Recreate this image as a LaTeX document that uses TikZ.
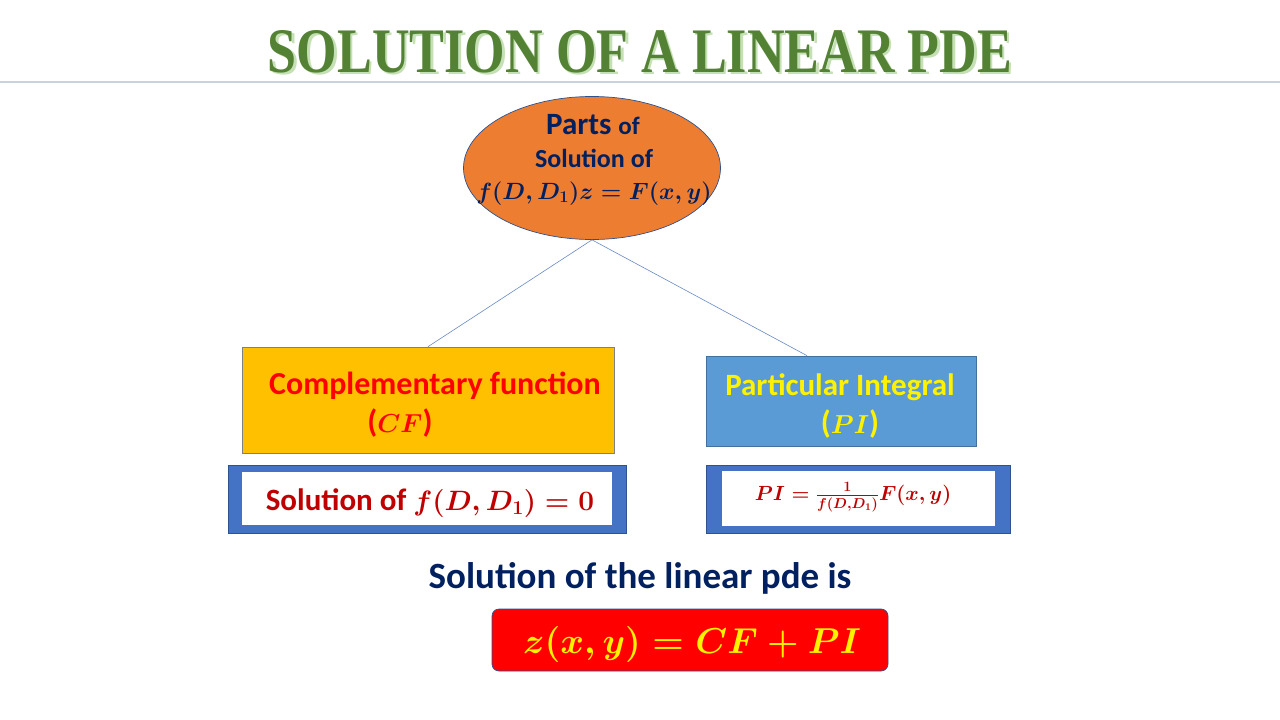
\RequirePackage{fix-cm}
\documentclass[tikz,border=0pt]{standalone}
\usepackage{amsmath}
\usepackage{fontspec}
\setmainfont{Carlito}
\newfontfamily\titlefont{Liberation Serif}
\usetikzlibrary{shapes.geometric,calc}
\definecolor{navy}{HTML}{002060}
\definecolor{tgreen}{HTML}{548235}
\definecolor{tshadow}{HTML}{C5E0B4}
\definecolor{orangeF}{HTML}{ED7D31}
\definecolor{gold}{HTML}{FFC000}
\definecolor{skyF}{HTML}{5B9BD5}
\definecolor{skyD}{HTML}{41719C}
\definecolor{frameB}{HTML}{4472C4}
\definecolor{darkred}{HTML}{C00000}
\definecolor{edgeB}{HTML}{2F528F}
\definecolor{ruleC}{HTML}{C9D3DC}
\definecolor{linkC}{HTML}{6A8AC4}
\newcommand{\fs}[1]{\fontsize{#1}{#1}\selectfont}
\begin{document}
\begin{tikzpicture}[x=1pt,y=-1pt,
  box/.style={rectangle, inner sep=0pt},
  txt/.style={inner sep=0pt, anchor=base, font=\bfseries},
  link/.style={draw=linkC, line width=0.6pt}]
\useasboundingbox (0,0) rectangle (1280,720);
\fill[white] (0,0) rectangle (1280,720);
% title
\node[inner sep=0pt, anchor=base, text=tshadow] (titleS) at (642.5,74.5) {\resizebox{744pt}{42pt}{\titlefont\bfseries SOLUTION OF A LINEAR PDE}};
\node[inner sep=0pt, anchor=base, text=tgreen] (title) at (640,72) {\resizebox{744pt}{42pt}{\titlefont\bfseries SOLUTION OF A LINEAR PDE}};
\draw[ruleC, line width=1.5pt] (0,82) -- (1280,82);
% ellipse
\node[ellipse, draw=edgeB, line width=0.7pt, fill=orangeF, minimum width=257pt, minimum height=143pt, inner sep=0pt] (top) at (592,168) {};
\node[txt, text=navy] (t1) at (593,134) {\fs{31}Parts \fs{25}of};
\node[txt, text=navy] (t2) at (594,167) {\fs{26}Solution of};
\node[txt, text=navy] (t3) at (594,199) {\fs{23.5}$\boldsymbol{f(D,D_1)z=F(x,y)}$};
% boxes
\node[box, draw=gray, line width=0.7pt, fill=gold, minimum width=372pt, minimum height=106pt] (cf) at (428,400) {};
\node[box, draw=skyD, line width=0.7pt, fill=skyF, minimum width=270pt, minimum height=90pt] (pi) at (841,401) {};
\draw[link] (top.south) -- (cf.north);
\draw[link] (top.south) -- ($(pi.north)+(-34,0)$);
\node[txt, text=red] (cf1) at (435,394) {\fs{32}Complementary function};
\node[txt, text=red] (cf2) at (400,432) {\fs{32}(\fs{26}$\boldsymbol{CF}$\fs{32})};
\node[txt, text=yellow] (pi1) at (840,395) {\fs{31}Particular Integral};
\node[txt, text=yellow] (pi2) at (850,433) {\fs{32}(\fs{26}$\boldsymbol{PI}$\fs{32})};
% framed boxes
\node[box, draw=edgeB, line width=0.5pt, fill=frameB, minimum width=398pt, minimum height=68pt] (sof) at (427,499) {};
\node[box, fill=white, minimum width=370pt, minimum height=53pt] (sofin) at (427,498.5) {};
\node[txt, text=darkred] (sofT) at (430,510) {\fs{31}Solution of \fs{28}$\boldsymbol{f(D,D_1)=0}$};
\node[box, draw=edgeB, line width=0.5pt, fill=frameB, minimum width=304pt, minimum height=68pt] (pif) at (858,499) {};
\node[box, fill=white, minimum width=273pt, minimum height=55pt] (pifin) at (858.5,498.5) {};
\node[inner sep=0pt, text=darkred] (pifT) at (853,497) {\fs{20.5}$\boldsymbol{PI=\frac{1}{f(D,D_1)}F(x,y)}$};
% final
\node[txt, text=navy] (sol) at (640,588) {\fs{37}Solution of the linear pde is};
\node[box, draw=edgeB, line width=0.7pt, fill=red, rounded corners=7pt, minimum width=396pt, minimum height=62pt] (res) at (690,640) {};
\node[txt, text=yellow] (resT) at (692,653) {\fs{36}$\boldsymbol{z(x,y)=CF+PI}$};
\end{tikzpicture}
\end{document}
